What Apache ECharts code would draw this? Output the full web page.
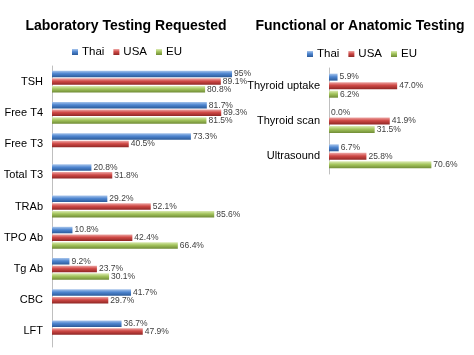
<!DOCTYPE html>
<html><head><meta charset="utf-8">
<script src="https://cdn.jsdelivr.net/npm/echarts@6/dist/echarts.min.js"></script>
<style>html,body{margin:0;padding:0;background:#fff}#c{width:474px;height:355px}</style>
</head><body><div id="c"></div>
<script>
// Data
var labCategories = ['TSH', 'Free T4', 'Free T3', 'Total T3', 'TRAb', 'TPO Ab', 'Tg Ab', 'CBC', 'LFT'];
var labThai = ['95', '81.7', '73.3', '20.8', '29.2', '10.8', '9.2', '41.7', '36.7'];
var labUSA  = ['89.1', '89.3', '40.5', '31.8', '52.1', '42.4', '23.7', '29.7', '47.9'];
var labEU   = ['80.8', '81.5', null, null, '85.6', '66.4', '30.1', null, null];

var funcCategories = ['Thyroid uptake', 'Thyroid scan', 'Ultrasound'];
var funcThai = ['5.9', '0.0', '6.7'];
var funcUSA  = ['47.0', '41.9', '25.8'];
var funcEU   = ['6.2', '31.5', '70.6'];

var seriesNames = ['Thai', 'USA', 'EU'];
var titles = ['Laboratory Testing Requested', 'Functional or Anatomic Testing'];

var FONT = 'Liberation Sans, Arial, Helvetica, sans-serif';
function grad(a, b, c) {
  return new echarts.graphic.LinearGradient(0, 0, 0, 1, [
    {offset: 0, color: a}, {offset: 0.45, color: b}, {offset: 1, color: c}
  ]);
}
var colors = [
  grad('#a9c6ec', '#4f86d0', '#2b5a99'),
  grad('#eea8a6', '#cf4946', '#8f2624'),
  grad('#dcebb4', '#a3c45c', '#6f8b35')
];

function mkSeries(name, data, idx, axisIdx, fs, bw, gap) {
  return {
    name: name, type: 'bar', data: data,
    xAxisIndex: axisIdx, yAxisIndex: axisIdx,
    barWidth: bw, barGap: gap,
    itemStyle: {color: colors[idx]},
    label: {
      show: true, position: 'right', distance: 2,
      fontFamily: FONT, fontSize: fs, color: '#404040',
      formatter: function (p) { return p.data == null ? '' : p.data + '%'; }
    },
    animation: false
  };
}

var labData = [labThai, labUSA, labEU];
var funcData = [funcThai, funcUSA, funcEU];
var series = [];
seriesNames.forEach(function (n, i) { series.push(mkSeries(n, labData[i], i, 0, 8.5, 6.5, '18%')); });
seriesNames.forEach(function (n, i) { series.push(mkSeries(n, funcData[i], i, 1, 8.5, 7, '22%')); });

var chart = echarts.init(document.getElementById('c'), null, {renderer: 'canvas'});
chart.setOption({
  animation: false,
  backgroundColor: '#ffffff',
  title: [
    {text: titles[0], left: 121, top: 14, textAlign: 'center',
     textStyle: {fontFamily: FONT, fontSize: 14, fontWeight: 'bold', color: '#000'}},
    {text: titles[1], left: 355, top: 14, textAlign: 'center',
     textStyle: {fontFamily: FONT, fontSize: 14, fontWeight: 'bold', color: '#000'}}
  ],
  legend: [
    {data: seriesNames, left: 67, top: 41, itemWidth: 6, itemHeight: 6, itemGap: 9,
     icon: 'rect', textStyle: {fontFamily: FONT, fontSize: 11.5, color: '#000', padding: [0, 0, 0, -1]}},
    {data: seriesNames, left: 302, top: 43, itemWidth: 6, itemHeight: 6, itemGap: 9,
     icon: 'rect', textStyle: {fontFamily: FONT, fontSize: 11.5, color: '#000', padding: [0, 0, 0, -1]}}
  ],
  grid: [
    {left: 52, top: 66, width: 189.5, height: 281},
    {left: 329, top: 68, width: 167.5, height: 106}
  ],
  xAxis: [
    {type: 'value', gridIndex: 0, min: 0, max: 100, show: false},
    {type: 'value', gridIndex: 1, min: 0, max: 100, show: false}
  ],
  yAxis: [
    {type: 'category', gridIndex: 0, data: labCategories, inverse: true,
     axisLine: {show: true, lineStyle: {color: '#bfbfbf', width: 1}},
     axisTick: {show: false},
     axisLabel: {fontFamily: FONT, fontSize: 11, color: '#000', margin: 9}},
    {type: 'category', gridIndex: 1, data: funcCategories, inverse: true,
     axisLine: {show: true, lineStyle: {color: '#bfbfbf', width: 1}},
     axisTick: {show: false},
     axisLabel: {fontFamily: FONT, fontSize: 11, color: '#000', margin: 9}}
  ],
  series: series
});
</script></body></html>
